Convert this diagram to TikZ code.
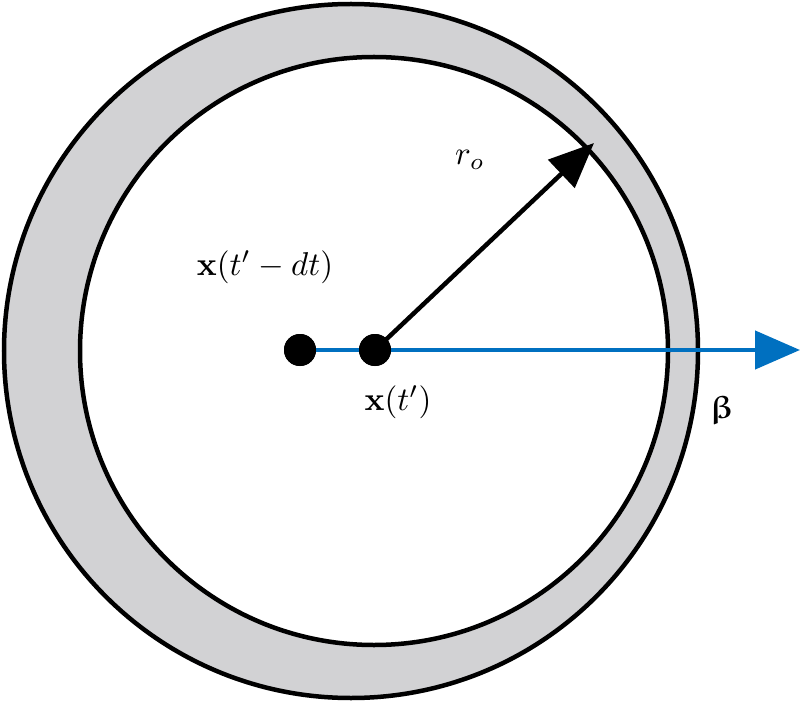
\documentclass[tikz,border=0pt]{standalone}
\usepackage{amsmath,bm,upgreek,graphicx}
\usetikzlibrary{arrows.meta}
\definecolor{ringgray}{RGB}{210,210,212}
\definecolor{arrblue}{RGB}{0,112,192}
\tikzset{lbl/.style={inner sep=0pt}}
\newcommand{\bigtxt}[1]{\scalebox{3.3}{#1}}
\begin{document}
\begin{tikzpicture}[x=1pt,y=-1pt]
\useasboundingbox (0,0) rectangle (800,703);
\draw[line width=4.5pt, fill=ringgray] (351,351) circle (347);
\draw[line width=4.5pt, fill=white] (374,351) circle (294);
\coordinate (tip) at (594,143);
\coordinate (bend) at (800,350);
\node[circle, fill=black, inner sep=0pt, minimum size=32pt] (p0) at (300,350) {};
\node[circle, fill=black, inner sep=0pt, minimum size=32pt] (p1) at (375,350) {};
\draw[arrblue, line width=4.5pt, -{Triangle[length=45pt,width=38pt]}] (p0.center) -- (bend);
\fill (p0) circle (16);
\fill (p1) circle (16);
\draw[line width=4.5pt, -{Triangle[length=45pt,width=38pt]}] (p1.center) -- (tip);
\node[lbl] (ro) at (470,160) {\bigtxt{$r_o$}};
\node[lbl] (xa) at (265,267) {\bigtxt{$\mathbf{x}(t'-dt)$}};
\node[lbl] (xb) at (398,402) {\bigtxt{$\mathbf{x}(t')$}};
\node[lbl] (b) at (722,410) {\bigtxt{$\bm{\upbeta}$}};
\end{tikzpicture}
\end{document}
